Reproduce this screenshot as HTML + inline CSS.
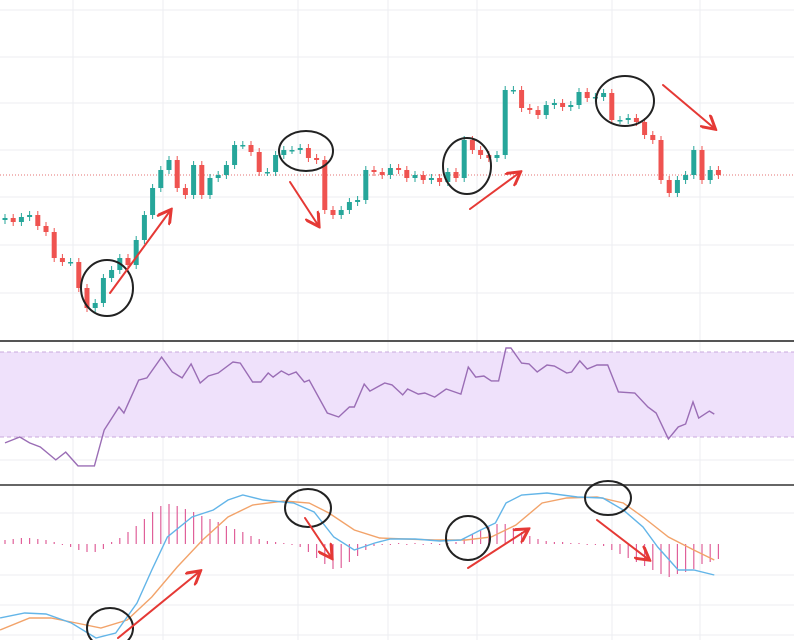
<!DOCTYPE html>
<html><head><meta charset="utf-8"><style>
html,body{margin:0;padding:0;background:#fff;}
svg{display:block;font-family:"Liberation Sans",sans-serif;}
</style></head><body>
<svg id="chart" width="794" height="640" viewBox="0 0 794 640" xmlns="http://www.w3.org/2000/svg">
<g id="grid"></g>
<rect x="0" y="352" width="794" height="85" fill="#efe1fb"/>
<line x1="0" y1="352" x2="794" y2="352" stroke="#c9a9dc" stroke-dasharray="4,3"/>
<line x1="0" y1="437" x2="794" y2="437" stroke="#c9a9dc" stroke-dasharray="4,3"/>
<line x1="0" y1="175" x2="794" y2="175" stroke="#e57373" stroke-dasharray="1,2"/>
<g id="candles"></g>
<g id="hist"></g>
<path id="rsiLine" fill="none" stroke="#9a6db5" stroke-width="1.4"/>
<path id="signalLine" fill="none" stroke="#f2a36a" stroke-width="1.4"/>
<path id="macdLine" fill="none" stroke="#63b5e8" stroke-width="1.4"/>
<line x1="0" y1="341" x2="794" y2="341" stroke="#555" stroke-width="2"/>
<line x1="0" y1="485" x2="794" y2="485" stroke="#666" stroke-width="2"/>
<g fill="none" stroke-linecap="round">
<defs><marker id="ah" markerWidth="8" markerHeight="8" refX="6" refY="4" orient="auto"><path d="M0,0 L7,4 L0,8" fill="none" stroke="#e53935" stroke-width="1.5"/></marker></defs>
<ellipse cx="107" cy="288" rx="26" ry="28" stroke="#222" stroke-width="2"/>
<ellipse cx="306" cy="151" rx="27" ry="20" stroke="#222" stroke-width="2"/>
<ellipse cx="467" cy="166" rx="24" ry="28" stroke="#222" stroke-width="2"/>
<ellipse cx="625" cy="101" rx="29" ry="25" stroke="#222" stroke-width="2"/>
<ellipse cx="308" cy="508" rx="23" ry="19" stroke="#222" stroke-width="2"/>
<ellipse cx="468" cy="538" rx="22" ry="22" stroke="#222" stroke-width="2"/>
<ellipse cx="608" cy="498" rx="23" ry="17" stroke="#222" stroke-width="2"/>
<ellipse cx="110" cy="628" rx="23" ry="20" stroke="#222" stroke-width="2"/>
<g stroke="#e53935" stroke-width="2" marker-end="url(#ah)">
<line x1="110" y1="293" x2="170" y2="211"/>
<line x1="290" y1="182" x2="318" y2="225"/>
<line x1="470" y1="209" x2="519" y2="173"/>
<line x1="663" y1="85" x2="714" y2="128"/>
<line x1="118" y1="638" x2="199" y2="572"/>
<line x1="305" y1="518" x2="331" y2="557"/>
<line x1="468" y1="568" x2="527" y2="530"/>
<line x1="597" y1="520" x2="648" y2="559"/>
</g></g>
</svg>
<script>
// price closes (price units)
const closes=[122,118,123,125,114,108,82,78,78,52,32,37,62,70,82,75,100,125,152,170,180,152,145,175,145,162,165,175,195,195,188,168,168,185,190,190,192,182,180,130,125,130,138,140,170,168,165,172,170,162,165,160,162,158,168,162,200,190,185,182,185,250,250,232,230,225,235,237,233,235,248,242,243,247,220,220,222,218,205,200,160,147,160,165,190,160,170,165];
const firstOpen=120;
const rsiT=[0,1.8,3.0,4.3,6.2,7.4,8.9,10.9,12.1,13.9,14.5,16.3,17.3,19.1,20.4,21.6,22.7,23.8,24.8,26.0,27.8,28.7,30.2,31.2,32.1,32.7,33.7,34.6,35.5,36.5,37.1,39.3,40.7,42.0,42.6,43.8,44.5,46.3,47.2,48.5,49.1,50.4,51.2,52.4,53.8,55.6,56.5,57.4,58.4,59.3,60.2,61.1,61.7,63.0,63.9,64.9,66.1,67.0,68.5,69.1,70.1,71.0,72.2,73.5,74.8,76.8,78.4,79.4,80.9,82.1,83.0,83.9,84.6,85.9,86.5];
const rsiV=[27.2,30.0,27.2,25.3,19.2,22.9,16.4,16.4,33.3,44.1,41.3,56.8,57.8,67.6,60.6,57.8,64.4,55.4,58.7,60.1,65.3,64.8,55.9,55.9,60.1,58.2,61.1,59.2,60.6,55.9,56.8,41.3,39.4,44.1,44.1,54.9,51.6,55.4,54.5,49.8,52.6,50.2,50.7,48.8,52.6,50.2,62.9,58.2,58.7,56.4,56.4,71.9,71.9,64.8,64.4,60.6,63.9,63.4,60.1,60.6,65.8,62.0,63.9,63.9,51.2,50.7,44.1,41.3,29.1,34.7,36.1,46.5,38.9,42.2,40.8];
const macdT=[-0.6,2.4,5.0,8.1,11.1,13.5,16.1,17.9,19.8,22.8,25.4,27.2,29.0,31.5,35.2,37.7,40.1,42.6,45.1,47.0,50.0,53.0,55.6,58.0,59.8,61.1,63.0,66.1,69.8,72.9,75.4,77.8,79.6,82.1,84.0,86.5];
const macdV=[-74,-69,-70,-79,-94,-89,-59,-26,7,27,34,44,49,44,41,32,7,-6,1,5,5,3,4,14,21,41,49,51,47,46,34,17,-3,-26,-26,-31];
const sigT=[-0.6,3.0,5.6,8.7,11.7,14.9,17.9,21.0,24.1,27.2,30.2,34.0,37.1,39.5,42.6,45.7,48.8,52.4,56.2,59.3,62.3,65.5,68.5,72.2,75.4,77.8,80.9,84.0,86.5];
const sigV=[-86,-74,-74,-79,-84,-76,-53,-23,4,27,39,43,41,31,14,6,5,4,4,7,19,41,46,47,41,27,7,-6,-16];
const histV=[4,5,6,6,5,4,2,0,-3,-6,-8,-8,-5,2,6,12,18,25,32,38,40,38,35,32,28,25,22,18,15,12,8,5,3,2,1,0,-3,-8,-14,-20,-25,-24,-18,-12,-6,-2,-1,0,1,0,1,0,1,0,1,2,5,10,14,17,20,20,16,12,8,5,3,2,2,1,1,0,0,-2,-6,-10,-14,-18,-22,-26,-30,-33,-30,-28,-25,-20,-18,-15];

const NS="http://www.w3.org/2000/svg";
const xAt=i=>5+i*8.2;
const yPrice=v=>340-v;
const yRsi=v=>352+(70-v)*85/40;
const yMacd=v=>544-v;
function mk(t,a,p){const e=document.createElementNS(NS,t);for(const k in a)e.setAttribute(k,a[k]);p.appendChild(e);return e;}

const grid=document.getElementById('grid');
[73,163,298,388,477,612,700].forEach(x=>{const l=mk('line',{x1:x,y1:0,x2:x,y2:640,stroke:'#eceef2'},grid);

});
[10,57,103,150,197,245,293,383,413,460,513,575,605,635].forEach(y=>{const l=mk('line',{x1:0,y1:y,x2:794,y2:y,stroke:'#eceef2'},grid);

});

const cg=document.getElementById('candles');
closes.forEach((c,i)=>{
 const o=i===0?firstOpen:closes[i-1];
 const up=c>=o, col=up?'#26a69a':'#ef5350', x=xAt(i);
 const top=yPrice(Math.max(o,c)), bot=yPrice(Math.min(o,c));
 const g=mk('g',{},cg);
 
 
 mk('line',{x1:x,y1:top-4,x2:x,y2:bot+4,stroke:col,'stroke-width':1},g);
 mk('rect',{x:x-2.5,y:top,width:5,height:Math.max(1.5,bot-top),fill:col},g);
});

const hg=document.getElementById('hist');
histV.forEach((v,i)=>{const x=xAt(i);
 const l=mk('line',{x1:x,y1:yMacd(0),x2:x,y2:yMacd(v)+(v===0?1:0),stroke:'#e0609a','stroke-width':1.2},hg);
 
 });

function path(ts,vs,yf){return ts.map((t,i)=>(i?'L':'M')+xAt(t).toFixed(1)+','+yf(vs[i]).toFixed(1)).join(' ');}
document.getElementById('rsiLine').setAttribute('d',path(rsiT,rsiV,yRsi));
document.getElementById('macdLine').setAttribute('d',path(macdT,macdV,yMacd));
document.getElementById('signalLine').setAttribute('d',path(sigT,sigV,yMacd));
</script>
</body></html>
